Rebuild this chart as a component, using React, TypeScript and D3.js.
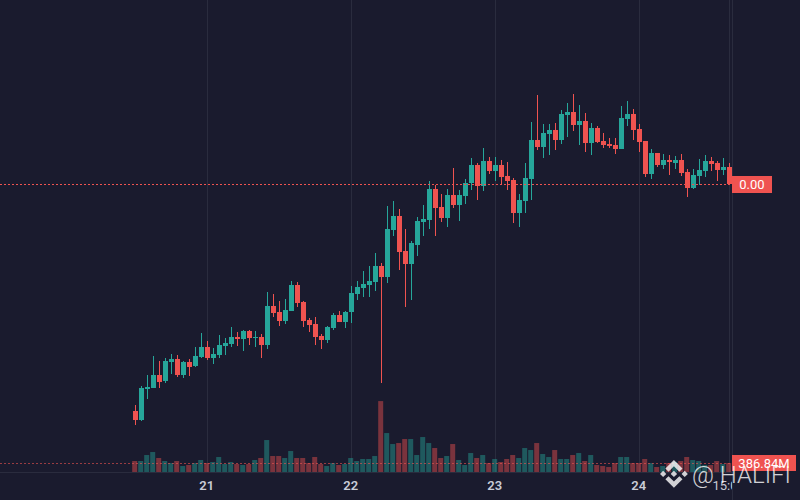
import * as d3 from 'd3';
import React from 'react';

// hourly candles, prices in 1e-6 units
const START = Date.UTC(2024, 4, 20, 12);

const open = [
  39, 30, 61, 62, 75, 69, 88, 91, 75, 88,
  84, 93, 103, 92, 95, 104, 106, 113, 111, 119,
  112, 113, 105, 144, 138, 129, 139, 165, 148, 130,
  126, 114, 110, 122, 135, 128, 138, 156, 162, 165,
  168, 184, 173, 220, 234, 199, 186, 205, 228, 230,
  261, 243, 232, 255, 245, 254, 267, 285, 264, 289,
  279, 285, 274, 270, 237, 249, 271, 310, 303, 316,
  320, 310, 335, 338, 325, 329, 307, 322, 309, 306,
  305, 301, 331, 336, 321, 309, 276, 297, 285, 290,
  287, 290, 278, 262, 274, 279, 289, 287, 280, 283,
];
const high = [
  45, 64, 75, 94, 89, 92, 96, 95, 89, 91,
  103, 117, 109, 102, 115, 112, 123, 118, 120, 120,
  119, 116, 158, 156, 149, 151, 169, 168, 149, 132,
  133, 116, 124, 137, 139, 139, 164, 169, 179, 184,
  197, 187, 244, 249, 241, 221, 209, 233, 245, 269,
  265, 256, 261, 282, 260, 271, 292, 287, 302, 293,
  293, 290, 288, 272, 256, 287, 328, 355, 326, 326,
  327, 340, 347, 356, 345, 337, 327, 324, 317, 312,
  312, 344, 349, 341, 326, 309, 301, 297, 296, 295,
  294, 296, 281, 281, 291, 295, 293, 289, 292, 287,
];
const low = [
  25, 29, 51, 62, 62, 67, 76, 73, 72, 74,
  83, 92, 90, 86, 92, 95, 103, 104, 99, 105,
  103, 92, 101, 133, 124, 126, 139, 143, 123, 118,
  105, 101, 107, 120, 128, 122, 127, 150, 153, 153,
  159, 67, 167, 214, 180, 143, 150, 194, 214, 221,
  214, 228, 223, 242, 229, 246, 260, 250, 259, 276,
  269, 266, 260, 227, 223, 237, 250, 300, 292, 295,
  300, 306, 313, 319, 305, 298, 295, 307, 302, 302,
  296, 301, 324, 310, 298, 273, 271, 283, 281, 275,
  281, 274, 253, 261, 265, 273, 279, 269, 275, 266,
];
const close = [
  30, 62, 63, 75, 68, 89, 91, 75, 88, 83,
  94, 103, 92, 96, 105, 107, 113, 111, 119, 112,
  113, 105, 144, 137, 129, 140, 165, 147, 129, 125,
  113, 110, 123, 135, 128, 138, 157, 163, 166, 169,
  184, 173, 221, 234, 198, 186, 207, 229, 231, 261,
  242, 232, 255, 245, 255, 267, 285, 264, 289, 279,
  285, 273, 269, 237, 250, 272, 310, 303, 317, 320,
  310, 336, 338, 325, 329, 307, 322, 308, 305, 304,
  301, 332, 336, 320, 308, 276, 297, 285, 290, 288,
  290, 277, 262, 275, 280, 289, 286, 280, 283, 266,
];
// volume in millions
const volume = [
  473, 473, 731, 860, 602, 473, 387, 473, 258, 301,
  387, 516, 387, 430, 645, 344, 430, 344, 301, 344,
  516, 602, 1376, 688, 688, 602, 903, 602, 602, 387,
  645, 344, 258, 387, 301, 344, 602, 473, 559, 559,
  688, 3053, 1677, 1204, 1247, 1419, 1419, 731, 1505, 1247,
  1032, 602, 688, 1204, 516, 301, 817, 602, 731, 387,
  559, 430, 559, 731, 602, 1032, 946, 1247, 774, 645,
  946, 559, 559, 731, 817, 473, 731, 301, 258, 215,
  387, 645, 645, 387, 387, 559, 387, 215, 258, 387,
  430, 473, 645, 516, 473, 301, 301, 473, 344, 386.84,
];

const tickLabels = ['21', '22', '23', '24', '15:00'];
const tickTimes = [
  '2024-05-21T00:00Z',
  '2024-05-22T00:00Z',
  '2024-05-23T00:00Z',
  '2024-05-24T00:00Z',
  '2024-05-24T15:00Z',
];
const tickMajor = [true, true, true, true, false];

const UP = '#26a69a';
const DOWN = '#ef5350';
const BG = '#1a1b2e';
const GRID = '#2a2c3e';

// Binance mark, 126.6 unit box
const logoPaths = [
  'M38.73 53.2l24.59-24.58 24.6 24.6 14.3-14.31L63.32 0 24.42 38.9z',
  'M0 63.31l14.3-14.31 14.31 14.31-14.31 14.3z',
  'M38.73 73.41l24.59 24.59 24.6-24.6 14.31 14.29-38.9 38.91-38.91-38.88z',
  'M98 63.31l14.3-14.31 14.31 14.3-14.31 14.32z',
  'M77.83 63.3L63.32 48.78 52.59 59.51l-1.24 1.23-2.54 2.54 14.51 14.5 14.51-14.47z',
];

export default function App() {
  const width = 800;
  const height = 500;
  const paneRight = 732;
  const axisY = 472;
  const barW = 5;

  const times = close.map((_, i) => new Date(START + i * 3600e3));
  const x = d3
    .scaleUtc()
    .domain([times[0], times[times.length - 1]])
    .range([134.7, 728.7]);
  const y = d3.scaleLinear().domain([0, 450]).range([450, 0]);
  const yVol = d3.scaleLinear().domain([0, 3100]).range([axisY, 400]);

  const last = close.length - 1;
  const lastUp = close[last] >= open[last];
  const lastColor = lastUp ? UP : DOWN;
  const lastPriceY = Math.round(y(close[last])) + 0.5;
  const lastVolY = Math.round(yVol(volume[last])) + 0.5;
  const fmtPrice = (v: number) => (v * 1e-6).toFixed(2);
  const fmtVol = (v: number) => d3.format('.2f')(v) + 'M';

  const ticks = tickTimes.map((t, i) => ({
    x: x(new Date(t)),
    label: tickLabels[i],
    major: tickMajor[i],
  }));

  return (
    <svg
      width={width}
      height={height}
      style={{ position: 'absolute', left: 0, top: 0, display: 'block' }}
      fontFamily="Roboto, 'Noto Sans', sans-serif"
    >
      <defs>
        <clipPath id="pane">
          <rect x={0} y={0} width={paneRight} height={height} />
        </clipPath>
      </defs>
      <rect width={width} height={height} fill={BG} />

      {/* vertical grid */}
      {ticks.map((t, i) => (
        <line
          key={'g' + i}
          x1={Math.round(t.x) + 0.5}
          x2={Math.round(t.x) + 0.5}
          y1={0}
          y2={axisY}
          stroke={GRID}
          strokeWidth={1}
        />
      ))}
      <line x1={paneRight + 0.5} x2={paneRight + 0.5} y1={0} y2={height} stroke={GRID} />
      <line x1={0} x2={paneRight} y1={axisY + 0.5} y2={axisY + 0.5} stroke={GRID} />

      {/* volume */}
      {volume.map((v, i) => {
        const up = close[i] >= open[i];
        const cx = x(times[i]);
        return (
          <rect
            key={'v' + i}
            x={cx - barW / 2}
            y={yVol(v)}
            width={barW}
            height={axisY - yVol(v)}
            fill={up ? UP : DOWN}
            fillOpacity={0.45}
          />
        );
      })}

      {/* candles */}
      {close.map((c, i) => {
        const o = open[i];
        const up = c >= o;
        const color = up ? UP : DOWN;
        const cx = x(times[i]);
        const top = y(Math.max(o, c));
        const bot = y(Math.min(o, c));
        return (
          <g key={'c' + i}>
            <line
              x1={Math.round(cx) + 0.5}
              x2={Math.round(cx) + 0.5}
              y1={y(high[i])}
              y2={y(low[i])}
              stroke={color}
              strokeWidth={1}
            />
            <rect
              x={Math.round(cx) + 0.5 - barW / 2}
              y={top}
              width={barW}
              height={Math.max(1, bot - top)}
              fill={color}
            />
          </g>
        );
      })}

      {/* last value lines */}
      <line
        x1={0}
        x2={paneRight}
        y1={lastPriceY}
        y2={lastPriceY}
        stroke={lastColor}
        strokeDasharray="2 2"
      />
      <line
        x1={0}
        x2={paneRight}
        y1={lastVolY}
        y2={lastVolY}
        stroke={lastColor}
        strokeOpacity={0.6}
        strokeDasharray="2 2"
      />

      {/* time axis */}
      <g clipPath="url(#pane)">
        {ticks.map((t, i) => (
          <text
            key={'t' + i}
            x={t.x}
            y={490}
            textAnchor="middle"
            fontSize={13}
            fontWeight={t.major ? 600 : 400}
            fill="#c9ccd6"
          >
            {t.label}
          </text>
        ))}
      </g>

      {/* price labels */}
      <rect x={paneRight} y={lastPriceY - 8.5} width={40} height={17} fill={lastColor} />
      <text
        x={paneRight + 20}
        y={lastPriceY + 4.5}
        textAnchor="middle"
        fontSize={13}
        fill="#ffffff"
      >
        {fmtPrice(close[last])}
      </text>
      <rect x={paneRight} y={lastVolY - 8.5} width={64} height={16} fill={lastColor} />
      <text
        x={paneRight + 32}
        y={lastVolY + 4.5}
        textAnchor="middle"
        fontSize={13}
        fill="#ffffff"
      >
        {fmtVol(volume[last])}
      </text>

      {/* watermark */}
      <g opacity={0.8}>
        <g transform="translate(660,460) scale(0.22)">
          {logoPaths.map((d, i) => (
            <path key={'l' + i} d={d} fill="#ffffff" />
          ))}
        </g>
        <text x={692} y={483} fontSize={24} fontWeight={300} fill="#ffffff">
          @ HALIFI
        </text>
      </g>
    </svg>
  );
}
